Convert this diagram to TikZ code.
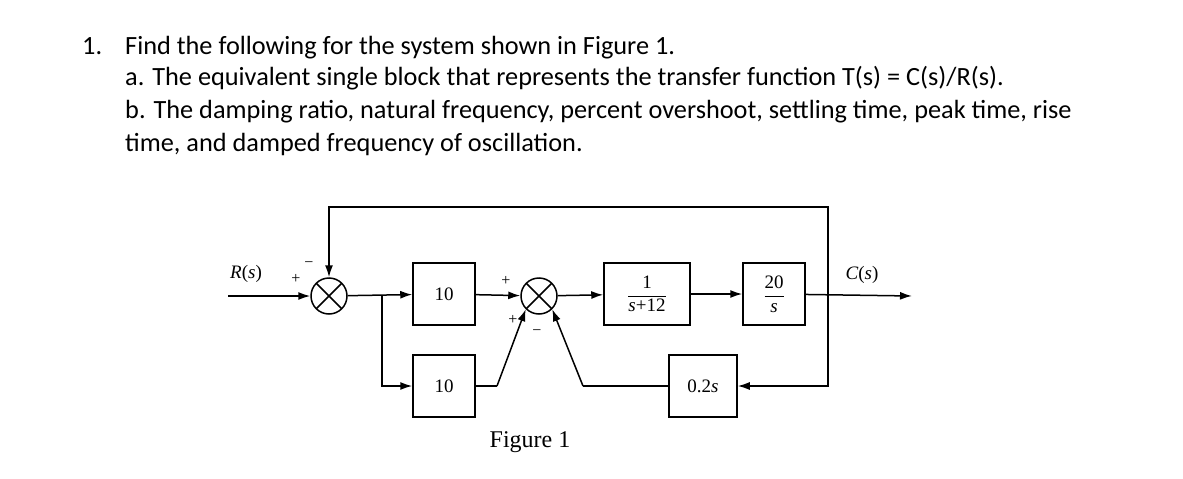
\documentclass[tikz,border=0pt]{standalone}
\usepackage{fontspec}
\setmainfont{Carlito}
\newfontfamily\tms{Liberation Serif}
\usetikzlibrary{arrows.meta}
\begin{document}
\begin{tikzpicture}[x=1pt,y=-1pt,
  blk/.style={draw,line width=1.5pt,minimum width=62pt,minimum height=62pt,inner sep=0pt,font=\tms\fontsize{19}{20}\selectfont},
  sum/.style={draw,line width=1.5pt,circle,minimum size=36pt,inner sep=0pt,path picture={\draw[line width=1.5pt] (path picture bounding box.north west)--(path picture bounding box.south east) (path picture bounding box.north east)--(path picture bounding box.south west);}},
  ar/.style={line width=1.5pt,-{Latex[length=12pt,width=8pt]}},
  ln/.style={line width=1.5pt},
  lab/.style={font=\tms\fontsize{19}{20}\selectfont},
  sg/.style={font=\tms\fontsize{16}{16}\selectfont,inner sep=0pt},
  txt/.style={anchor=base west,inner sep=0pt,font=\fontsize{26.3}{30}\selectfont}]
\useasboundingbox (0,0) rectangle (1183,479);
\node[txt] (n1) at (82,54) {1.};
\node[txt] (l1) at (125,54) {Find the following for the system shown in Figure 1.};
\node[txt] (l2) at (125,85) {a. The equivalent single block that represents the transfer function T(s) = C(s)/R(s).};
\node[txt] (l3) at (125,118) {b. The damping ratio, natural frequency, percent overshoot, settling time, peak time, rise};
\node[txt] (l4) at (125,151) {time, and damped frequency of oscillation.};

\node[sum] (s1) at (329,296) {};
\node[blk] (g1) at (444,294) {10};
\node[sum] (s2) at (539,296) {};
\node[blk,minimum width=86pt] (g2) at (647,294) {$\displaystyle\frac{\hbox{1}}{\hbox{\itshape s\upshape+12}}$};
\node[blk] (g3) at (774,294) {$\displaystyle\frac{\hbox{20}}{\hbox{\itshape s}}$};
\node[blk] (g4) at (444,386) {10};
\node[blk,minimum width=68pt] (g5) at (703,386) {0.2\textit{s}};
\coordinate (in) at (228,296);
\coordinate (out) at (912,296);
\coordinate (tap) at (828,296);
\coordinate (br) at (382,296);
\coordinate (k1) at (497,386);
\coordinate (k2) at (583,386);
\node[lab] (R) at (246,274) {\textit{R}(\textit{s})};
\node[lab] (C) at (862,275) {\textit{C}(\textit{s})};
\node[sg] (p1) at (296,279) {+};
\node[sg] (m1) at (309,265) {\textminus};
\node[sg] (p2) at (506,281) {+};
\node[sg] (p3) at (513,320) {+};
\node[sg] (m2) at (537,333) {\textminus};
\node[font=\tms\fontsize{24}{26}\selectfont] (fig) at (530,442) {Figure 1};

\draw[ar] (in) -- (s1);
\draw[ar] (s1) -- (g1);
\draw[ar] (g1) -- (s2);
\draw[ar] (s2) -- (g2);
\draw[ar] (g2) -- (g3);
\draw[ar] (g3) -- (out);
\draw[ar] (tap) |- (329,207) -- (s1);
\draw[ar] (tap) |- (g5);
\draw[ar] (br) |- (g4);
\draw[ln] (g4) -- (k1);
\draw[ar] (k1) -- (s2.south west);
\draw[ln] (g5) -- (k2);
\draw[ar] (k2) -- (s2.south east);
\end{tikzpicture}
\end{document}
